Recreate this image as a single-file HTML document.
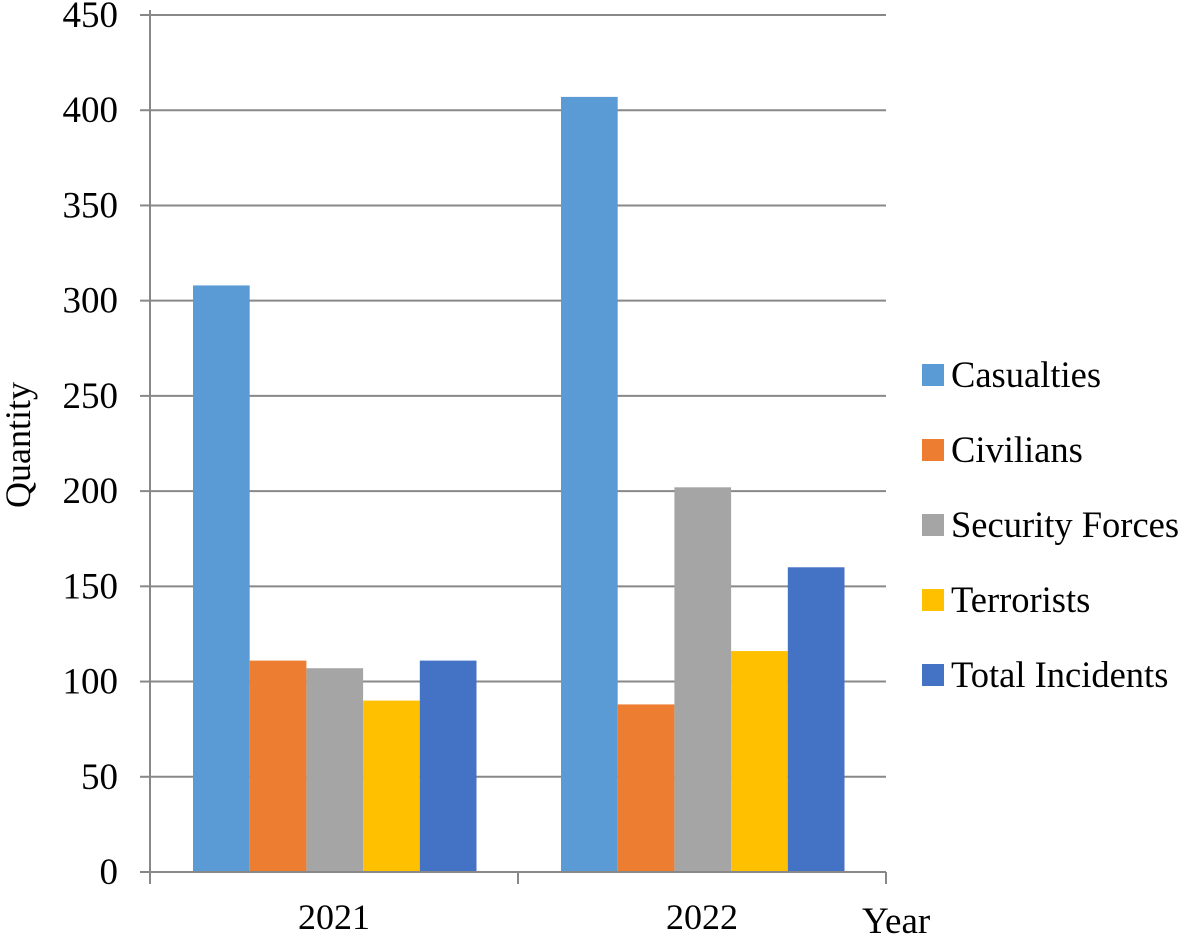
<!DOCTYPE html>
<html><head><meta charset="utf-8"><style>
body{margin:0;background:#fff}
svg{display:block;font-family:"Liberation Serif",serif}
</style></head><body>
<svg id="chart" width="1181" height="934"></svg>
<script>
const categories=["2021","2022"];
const seriesNames=["Casualties","Civilians","Security Forces","Terrorists","Total Incidents"];
const seriesColors=["#5b9bd5","#ed7d31","#a5a5a5","#ffc000","#4472c4"];
const casualties=[308,407];
const civilians=[111,88];
const securityForces=[107,202];
const terrorists=[90,116];
const totalIncidents=[111,160];
const yTicks=[0,50,100,150,200,250,300,350,400,450];
const values=[casualties,civilians,securityForces,terrorists,totalIncidents];
const NS="http://www.w3.org/2000/svg";
const svg=document.getElementById('chart');
const x0=150,x1=886,y0=872,yTop=15,yMax=450;
const y=v=>y0-(v/yMax)*(y0-yTop);
const catW=(x1-x0)/categories.length;
function el(t,a,p){const e=document.createElementNS(NS,t);for(const k in a)e.setAttribute(k,a[k]);(p||svg).appendChild(e);return e;}
yTicks.forEach(t=>{
  if(t>0){const g=el('line',{x1:x0,x2:x1,y1:y(t),y2:y(t),stroke:'#888','stroke-width':2});
  
  }
  const tk=el('line',{x1:x0-10,x2:x0,y1:y(t),y2:y(t),stroke:'#888','stroke-width':2});
  
  
  const tx=el('text',{x:118,y:y(t)+12,'text-anchor':'end','font-size':37});
  tx.textContent=t;
  
  
});
const barW=56.7;
categories.forEach((c,i)=>{
  const start=x0+i*catW+43;
  values.forEach((s,j)=>{
    const r=el('rect',{x:start+j*barW,y:y(s[i]),width:barW,height:y0-y(s[i]),fill:seriesColors[j]});
    
    
  });
  const l=el('text',{x:x0+(i+0.5)*catW,y:929,'text-anchor':'middle','font-size':36});
  l.textContent=c;
  
  
});
for(let i=0;i<=categories.length;i++){
  const t=el('line',{x1:x0+i*catW,x2:x0+i*catW,y1:y0,y2:y0+12,stroke:'#888','stroke-width':2});
  
  
}
const ya=el('line',{x1:x0,x2:x0,y1:yTop-5,y2:y0,stroke:'#888','stroke-width':2});


const xa=el('line',{x1:x0,x2:x1,y1:y0,y2:y0,stroke:'#888','stroke-width':2});


seriesNames.forEach((n,j)=>{
  const ly=375+j*75;
  const sw=el('rect',{x:922,y:ly-11,width:22,height:22,fill:seriesColors[j]});
  
  
  const t=el('text',{x:951,y:ly+12,'font-size':36.5});
  t.textContent=n;
  
  
});
const yt=el('text',{x:0,y:0,'text-anchor':'middle','font-size':36,transform:'translate(30,445) rotate(-90)'});
yt.textContent='Quantity';


const xt=el('text',{x:862,y:933,'font-size':37});
xt.textContent='Year';


</script>
</body></html>
